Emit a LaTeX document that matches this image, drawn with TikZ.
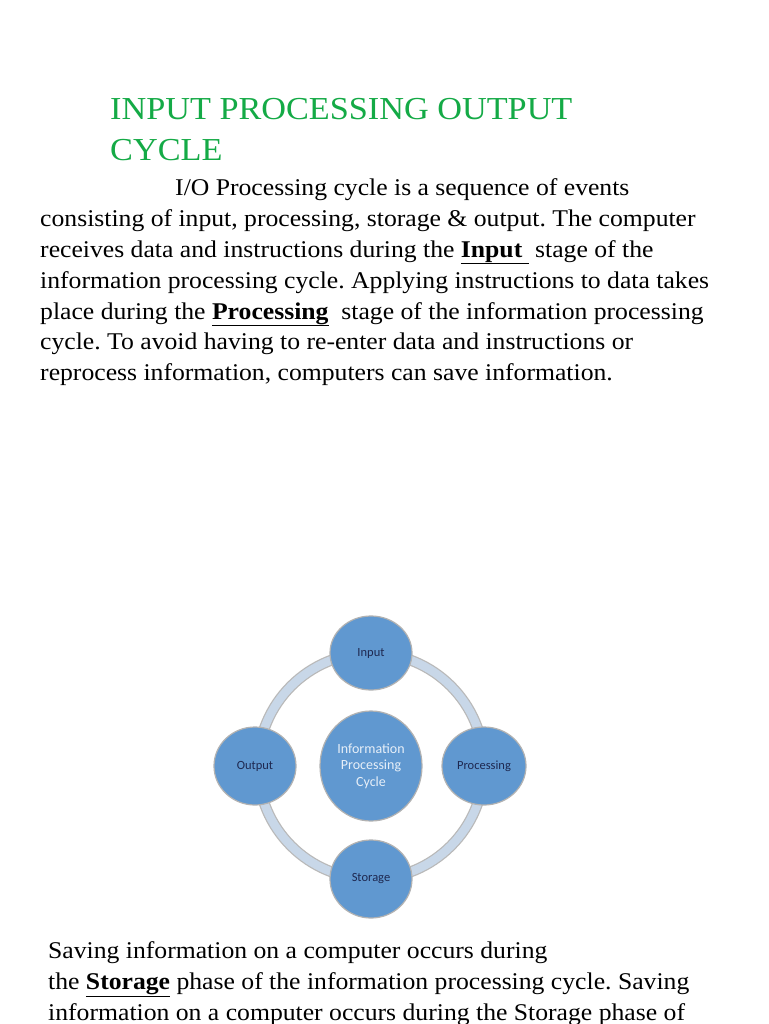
\documentclass[tikz,border=0pt]{standalone}
\usepackage{fontspec}
\setmainfont{Liberation Serif}[FakeStretch=1.07]
\newfontfamily\calib{Carlito}
\frenchspacing
\begin{document}
\begin{tikzpicture}[x=1pt,y=-1pt,
  body/.style={anchor=base west,inner sep=0pt,font=\fontsize{24}{28}\selectfont},
  ttl/.style={anchor=base west,inner sep=0pt,font=\fontsize{32}{36}\selectfont},
  bub/.style={ellipse,draw=gray!60,line width=1.2pt,fill=blubg,font=\calib\fontsize{12.5}{14}\selectfont,text=navy,inner sep=0pt},
]
\usetikzlibrary{shapes.geometric}
\definecolor{blubg}{RGB}{96,152,208}
\definecolor{navy}{RGB}{30,40,80}
\definecolor{ringc}{RGB}{200,215,232}
\definecolor{grn}{RGB}{20,170,70}
\useasboundingbox (0,0) rectangle (768,1024);
\fill[white] (0,0) rectangle (768,1024);
\node[ttl,text=grn] (t1) at (110,120) {INPUT PROCESSING OUTPUT};
\node[ttl,text=grn] (t2) at (110,161) {CYCLE};
\node[body] (l1) at (175,196) {I/O Processing cycle is a sequence of events};
\node[body] (l2) at (40,226) {consisting of input, processing, storage \& output. The computer};
\node[body] (l3) at (40,257) {receives data and instructions during the \textbf{\underline{Input }} stage of the};
\node[body] (l4) at (40,288) {information processing cycle. Applying instructions to data takes};
\node[body] (l5) at (40,319) {place during the \textbf{\underline{Processing}}\ \ stage of the information processing};
\node[body] (l6) at (40,349) {cycle. To avoid having to re-enter data and instructions or};
\node[body] (l7) at (40,380) {reprocess information, computers can save information.};
% diagram
\coordinate (c) at (371,766);
\draw[gray!55,line width=11pt] (c) circle (113);
\draw[ringc,line width=8.5pt] (c) circle (113);
\node[bub,minimum width=102pt,minimum height=110pt,text=white!85!blubg,align=center,font=\calib\fontsize{14}{16.5}\selectfont] (ctr) at (c) {Information\\Processing\\Cycle};
\node[bub,minimum width=82pt,minimum height=74pt] (in) at (371,653) {Input};
\node[bub,minimum width=84pt,minimum height=78pt] (pr) at (484,766) {Processing};
\node[bub,minimum width=82pt,minimum height=78pt] (st) at (371,879) {Storage};
\node[bub,minimum width=82pt,minimum height=78pt] (ou) at (255,766) {Output};
\node[body] (b1) at (48,958) {Saving information on a computer occurs during};
\node[body] (b2) at (48,989) {the \textbf{\underline{Storage}} phase of the information processing cycle. Saving};
\node[body] (b3) at (48,1020) {information on a computer occurs during the Storage phase of};
\end{tikzpicture}
\end{document}
